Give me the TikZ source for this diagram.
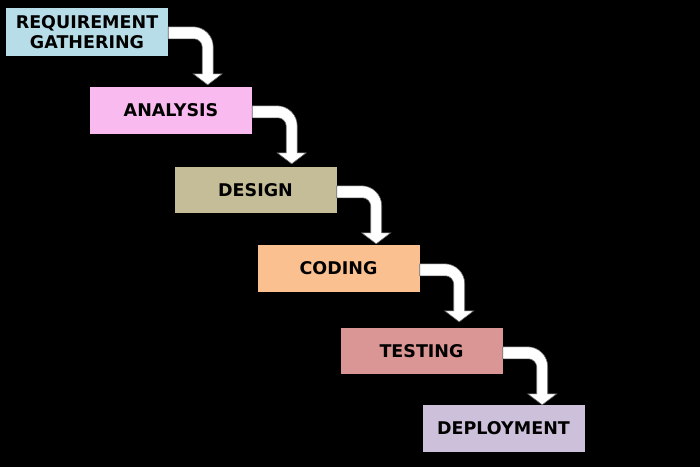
\documentclass[tikz,border=0pt]{standalone}
\usepackage{fontspec}
\setmainfont{DejaVu Sans}
\begin{document}
\begin{tikzpicture}[x=1pt,y=-1pt,
 stepbox/.style={minimum width=162pt,minimum height=47pt,inner sep=0pt,align=center,font=\bfseries\fontsize{17.5}{19.5}\selectfont,text=black},
 arr/.style={fill=white,draw=black!60,line width=0.6pt}]
\fill[black] (0,0) rectangle (700,467);
\definecolor{c1}{HTML}{B7DEE8}\definecolor{c2}{HTML}{F9BBEF}\definecolor{c3}{HTML}{C4BD97}
\definecolor{c4}{HTML}{FAC090}\definecolor{c5}{HTML}{D99694}\definecolor{c6}{HTML}{CCC0DA}
\node[stepbox,fill=c1,minimum height=48pt] (b1) at (87,32) {REQUIREMENT\\GATHERING};
\node[stepbox,fill=c2] (b2) at (171,110.5) {ANALYSIS};
\node[stepbox,fill=c3,minimum height=46pt] (b3) at (255.5,190) {DESIGN};
\node[stepbox,fill=c4] (b4) at (338.5,268.5) {CODING};
\node[stepbox,fill=c5,minimum height=46pt] (b5) at (421.5,351) {TESTING};
\node[stepbox,fill=c6] (b6) at (503.5,428.5) {DEPLOYMENT};
\newcommand{\bendarrow}[1]{%
 \path[arr,shift={(#1)}] (0,0) -- (25,0) .. controls (36,0) and (45,9) .. (45,20) -- (45,47) -- (54,47) -- (39.5,58) -- (25,47) -- (34,47) -- (34,20) .. controls (34,16) and (30,12) .. (26,12) -- (0,12) -- cycle;}
\foreach \b in {b1,b2,b3,b4,b5}{\coordinate (s\b) at ([yshift=-19pt]\b.north east); \bendarrow{s\b}}
\end{tikzpicture}
\end{document}
